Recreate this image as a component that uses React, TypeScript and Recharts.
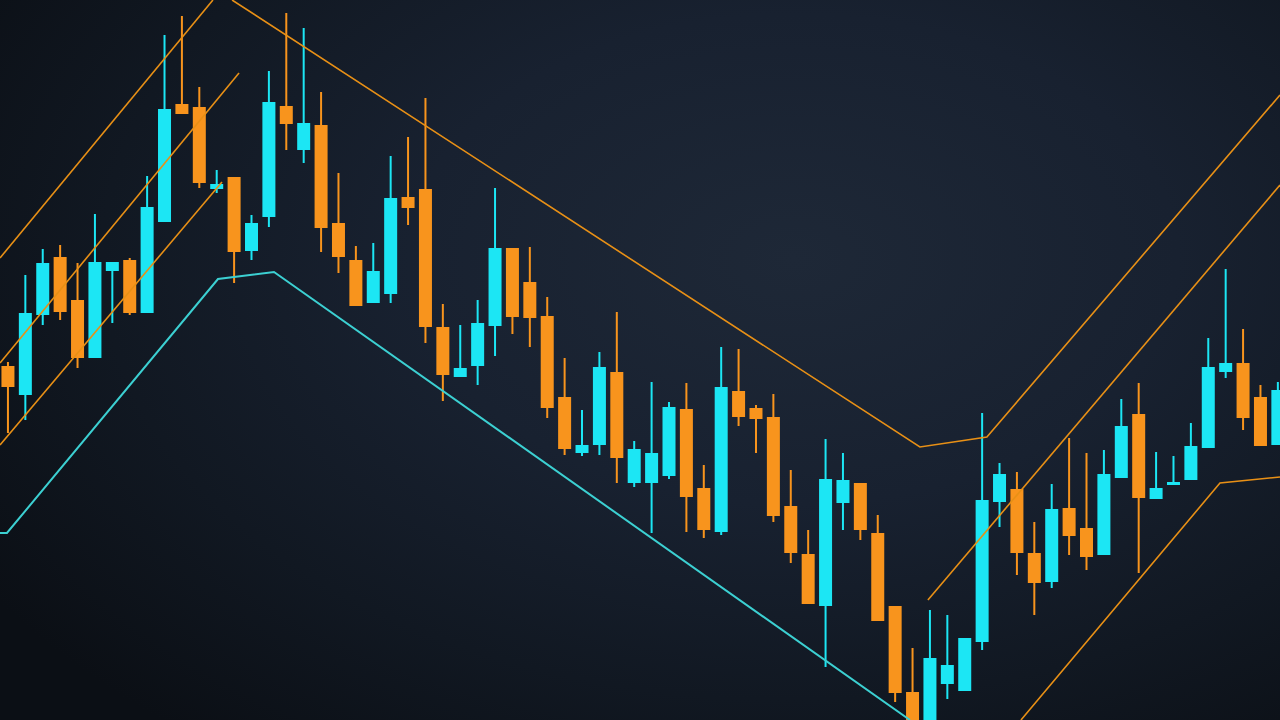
import { ComposedChart, Bar, Line, XAxis, YAxis } from 'recharts'

// candle values, left to right
const opens = [354, 325, 405, 463, 420, 362, 449, 460, 407, 498, 616, 613, 531, 543, 469, 503, 614, 570, 595, 497, 460, 417, 426, 523, 531, 393, 343, 354, 394, 472, 438, 404, 323, 267, 275, 348, 237, 237, 244, 311, 232, 188, 329, 312, 303, 214, 166, 114, 217, 237, 187, 114, 28, -20, 36, 29, 78, 218, 231, 167, 138, 212, 192, 165, 242, 306, 221, 235, 240, 272, 348, 357, 323, 275]
const highs = [358, 445, 471, 475, 457, 506, 458, 462, 544, 685, 704, 633, 550, 543, 505, 649, 707, 692, 628, 547, 474, 477, 564, 583, 622, 416, 395, 420, 532, 472, 473, 423, 362, 310, 368, 408, 279, 338, 318, 337, 255, 373, 371, 315, 326, 250, 190, 281, 267, 237, 205, 114, 72, 110, 105, 82, 307, 257, 248, 198, 236, 282, 267, 270, 321, 337, 268, 264, 297, 382, 451, 391, 335, 338]
const lows = [287, 300, 395, 400, 352, 362, 397, 405, 407, 498, 606, 532, 527, 437, 460, 493, 570, 557, 468, 447, 414, 417, 417, 495, 377, 319, 343, 335, 364, 386, 373, 302, 265, 264, 265, 237, 233, 187, 241, 188, 182, 185, 294, 267, 198, 157, 116, 53, 190, 180, 99, 18, -25, -25, 21, 29, 70, 193, 145, 105, 132, 165, 150, 165, 242, 147, 221, 235, 240, 272, 342, 290, 274, 275]
const closes = [333, 407, 457, 408, 362, 458, 458, 407, 513, 611, 606, 537, 536, 468, 497, 618, 596, 597, 492, 463, 414, 449, 522, 512, 393, 345, 352, 397, 472, 403, 402, 312, 271, 275, 353, 262, 271, 267, 313, 223, 190, 333, 303, 301, 204, 167, 116, 241, 240, 190, 99, 27, -15, 62, 55, 82, 220, 246, 167, 137, 211, 184, 163, 246, 294, 222, 232, 238, 274, 353, 357, 302, 274, 330]

// channel lines as [index, level] pairs
const upperLeft = [[-0.46, 462], [11.78, 720]]
const upperMain = [[12.88, 720], [52.42, 273], [56.27, 283], [73.12, 625]]
const middleLeft = [[-0.46, 357], [13.28, 647]]
const lowerLeft = [[-0.46, 275], [12.3, 538]]
const supportLine = [[-0.46, 187], [-0.06, 187], [12.07, 441], [15.29, 448], [51.85, 0]]
const middleRight = [[52.88, 120], [73.12, 535]]
const lowerRight = [[58.23, 0], [69.67, 237], [73.12, 243]]

const CYAN = '#1ce6f4'
const ORANGE = '#f8941d'
const LINE_ORANGE = '#e89016'
const LINE_CYAN = '#3cd0d2'

const candles = opens.map((open, i) => ({
  i,
  open,
  high: highs[i],
  low: lows[i],
  close: closes[i],
}))

const toPoints = (pts: number[][]) => pts.map(([i, v]) => ({ i, v }))

function Candle(props: any) {
  const { x, y, width, height, payload } = props
  if (x == null || y == null || !payload) return null
  const top = Math.min(y, y + height)
  const bot = Math.max(y, y + height)
  const span = payload.high - payload.low || 1
  const py = (v: number) => top + ((payload.high - v) / span) * (bot - top)
  const up = payload.close >= payload.open
  const color = up ? CYAN : ORANGE
  const cx = x + width / 2
  const bTop = py(Math.max(payload.open, payload.close))
  const bBot = py(Math.min(payload.open, payload.close))
  return (
    <g>
      <line x1={cx} x2={cx} y1={top} y2={bot} stroke={color} strokeWidth={2} />
      <rect x={cx - 6.5} y={bTop} width={13} height={Math.max(bBot - bTop, 2.5)} fill={color} />
    </g>
  )
}

const channelLines = [
  { key: 'upperLeft', pts: upperLeft, color: LINE_ORANGE, w: 1.6 },
  { key: 'upperMain', pts: upperMain, color: LINE_ORANGE, w: 1.6 },
  { key: 'middleLeft', pts: middleLeft, color: LINE_ORANGE, w: 1.6 },
  { key: 'lowerLeft', pts: lowerLeft, color: LINE_ORANGE, w: 1.6 },
  { key: 'support', pts: supportLine, color: LINE_CYAN, w: 2 },
  { key: 'middleRight', pts: middleRight, color: LINE_ORANGE, w: 1.6 },
  { key: 'lowerRight', pts: lowerRight, color: LINE_ORANGE, w: 1.6 },
]

export default function App() {
  return (
    <div
      style={{
        position: 'absolute',
        left: 0,
        top: 0,
        width: 1280,
        height: 720,
        overflow: 'hidden',
        background:
          'radial-gradient(ellipse 75% 85% at 62% 36%, #1e2837 0%, #182130 40%, #111822 72%, #0b0f15 100%)',
      }}
    >
      <ComposedChart width={1280} height={720} data={candles} margin={{ top: 0, right: 0, bottom: 0, left: 0 }}>
        <XAxis type="number" dataKey="i" domain={[-0.46, 73.12]} allowDataOverflow hide />
        <YAxis type="number" domain={[0, 720]} allowDataOverflow hide />
        {channelLines.map((l) => (
          <Line
            key={l.key}
            data={toPoints(l.pts)}
            dataKey="v"
            type="linear"
            stroke={l.color}
            strokeWidth={l.w}
            dot={false}
            activeDot={false}
            isAnimationActive={false}
          />
        ))}
        <Bar
          dataKey={(d: any) => [d.low, d.high]}
          barSize={13}
          shape={<Candle />}
          isAnimationActive={false}
        />
      </ComposedChart>
    </div>
  )
}
